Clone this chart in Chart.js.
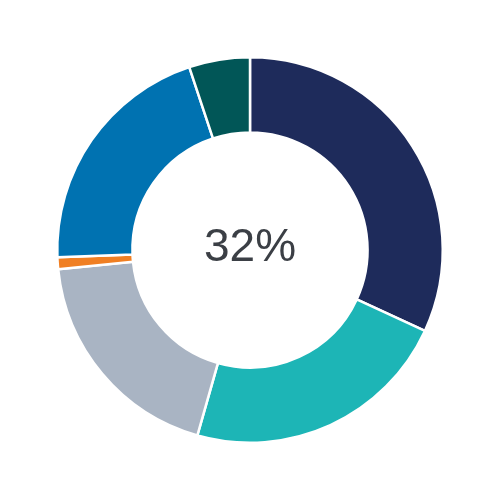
<!DOCTYPE html>
<html>
<head>
<meta charset="utf-8">
<script src="https://cdn.jsdelivr.net/npm/chart.js@4/dist/chart.umd.min.js"></script>
<style>
  html, body { margin: 0; padding: 0; background: #fff; }
  #wrap { width: 500px; height: 500px; }
</style>
</head>
<body>
<div id="wrap"><canvas id="donut"></canvas></div>
<script>
var labels = ['A', 'B', 'C', 'D', 'E', 'F'];
var values = [31.9, 22.5, 19.0, 1.0, 20.5, 5.1];
var colors = ['#1e2b5b', '#1db5b6', '#a9b4c3', '#f07f23', '#0072b1', '#015657'];
var centerText = '32%';

var centerLabel = {
  id: 'centerLabel',
  afterDraw: function (chart) {
    var meta = chart.getDatasetMeta(0).data[0];
    var ctx = chart.ctx;
    ctx.save();
    ctx.font = '46px "Liberation Sans", Arial, sans-serif';
    ctx.fillStyle = '#3b3f45';
    ctx.textAlign = 'center';
    ctx.textBaseline = 'middle';
    ctx.fillText(centerText, meta.x, meta.y - 2);
    ctx.restore();
  }
};

var ctx = document.getElementById('donut').getContext('2d');
new Chart(ctx, {
  type: 'doughnut',
  data: {
    labels: labels,
    datasets: [{
      data: values,
      backgroundColor: colors,
      borderColor: '#ffffff',
      borderWidth: 2.5
    }]
  },
  options: {
    responsive: true,
    maintainAspectRatio: false,
    animation: false,
    cutout: '61%',
    layout: { padding: 56 },
    plugins: {
      legend: { display: false },
      tooltip: { enabled: false }
    }
  },
  plugins: [centerLabel]
});
</script>
</body>
</html>
